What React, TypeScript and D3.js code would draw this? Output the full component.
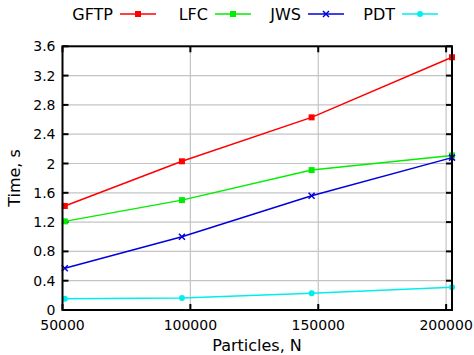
import React from "react";
import * as d3 from "d3";

const particles = [50900, 96700, 147400, 202300];
const gftp = [1.42, 2.03, 2.63, 3.45];
const lfc = [1.21, 1.5, 1.91, 2.11];
const jws = [0.57, 1.0, 1.56, 2.08];
const pdt = [0.155, 0.165, 0.23, 0.31];
const seriesNames = ["GFTP", "LFC", "JWS", "PDT"];
const seriesColors = ["#ff0000", "#00ee00", "#0000dd", "#00eeee"];
const markerTypes = ["square", "square", "cross", "circle"];
const xTicks = [50000, 100000, 150000, 200000];
const yTicks = [0, 0.4, 0.8, 1.2, 1.6, 2, 2.4, 2.8, 3.2, 3.6];

const W = 474, H = 355;
const M = { left: 62.5, right: 452, top: 46.3, bottom: 310 };
const font = "DejaVu Sans, sans-serif";

function Marker({ type, x, y, color }: { type: string; x: number; y: number; color: string }) {
  if (type === "square") return <rect x={x - 3} y={y - 3} width={6} height={6} fill={color} />;
  if (type === "circle") return <circle cx={x} cy={y} r={3} fill={color} />;
  return (
    <g stroke={color} strokeWidth={1.5}>
      <line x1={x - 3} y1={y - 3} x2={x + 3} y2={y + 3} />
      <line x1={x - 3} y1={y + 3} x2={x + 3} y2={y - 3} />
    </g>
  );
}

export default function App() {
  const x = d3.scaleLinear().domain([50000, 202300]).range([M.left, M.right]);
  const y = d3.scaleLinear().domain([0, 3.6]).range([M.bottom, M.top]);
  const data = [gftp, lfc, jws, pdt];
  const line = d3.line<number>().x((_, i) => x(particles[i])).y((d) => y(d));
  const fmt = d3.format("~g");
  const legendX = [113, 208, 301, 395];

  return (
    <svg width={W} height={H} style={{ position: "absolute", left: 0, top: 0, background: "#fff" }} fontFamily={font}>
      <rect width={W} height={H} fill="#fff" />
      {/* grid */}
      {yTicks.slice(1, -1).map((t) => (
        <line key={"gy" + t} x1={M.left} x2={M.right} y1={y(t)} y2={y(t)} stroke="#c4c4c4" strokeWidth={1.2} />
      ))}
      {xTicks.slice(1).map((t) => (
        <line key={"gx" + t} x1={x(t)} x2={x(t)} y1={M.top} y2={M.bottom} stroke="#c4c4c4" strokeWidth={1.2} />
      ))}
      {/* ticks */}
      {yTicks.map((t) => (
        <g key={"ty" + t} stroke="#000" strokeWidth={2}>
          <line x1={M.left} x2={M.left + 6} y1={y(t)} y2={y(t)} />
          <line x1={M.right - 6} x2={M.right} y1={y(t)} y2={y(t)} />
        </g>
      ))}
      {xTicks.map((t) => (
        <g key={"tx" + t} stroke="#000" strokeWidth={2}>
          <line x1={x(t)} x2={x(t)} y1={M.bottom} y2={M.bottom - 6} />
          <line x1={x(t)} x2={x(t)} y1={M.top} y2={M.top + 6} />
        </g>
      ))}
      {/* lines */}
      {data.map((s, i) => (
        <g key={seriesNames[i]}>
          <path d={line(s) || ""} fill="none" stroke={seriesColors[i]} strokeWidth={1.5} />
          {s.map((v, j) => (
            <Marker key={j} type={markerTypes[i]} x={x(particles[j])} y={y(v)} color={seriesColors[i]} />
          ))}
        </g>
      ))}
      {/* border */}
      <rect x={M.left} y={M.top} width={M.right - M.left} height={M.bottom - M.top} fill="none" stroke="#000" strokeWidth={2} />
      {/* tick labels */}
      {yTicks.map((t) => (
        <text key={"ly" + t} x={M.left - 7} y={y(t) + 5} textAnchor="end" fontSize={14} fill="#000">
          {fmt(t)}
        </text>
      ))}
      {xTicks.map((t) => (
        <text key={"lx" + t} x={x(t)} y={330} textAnchor="middle" fontSize={14} fill="#000">
          {t}
        </text>
      ))}
      <text x={257} y={351} textAnchor="middle" fontSize={16} fill="#000">Particles, N</text>
      <text transform={`translate(20,178) rotate(-90)`} textAnchor="middle" fontSize={16} fill="#000">Time, s</text>
      {/* legend */}
      {seriesNames.map((n, i) => (
        <g key={"lg" + n}>
          <text x={legendX[i]} y={20} textAnchor="end" fontSize={16} fill="#000">{n}</text>
          <line x1={legendX[i] + 7} x2={legendX[i] + 43} y1={14} y2={14} stroke={seriesColors[i]} strokeWidth={1.5} />
          <Marker type={markerTypes[i]} x={legendX[i] + 25} y={14} color={seriesColors[i]} />
        </g>
      ))}
    </svg>
  );
}
